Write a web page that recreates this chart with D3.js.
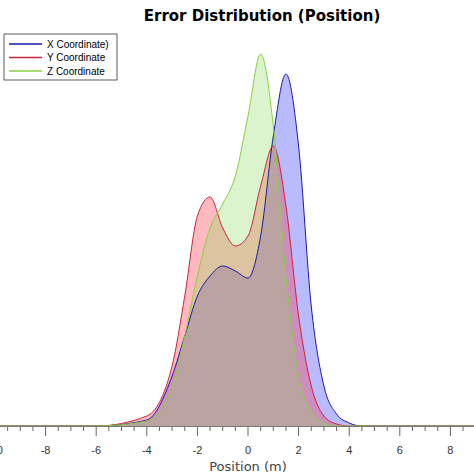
<!DOCTYPE html>
<html><head><meta charset="utf-8">
<script src="https://cdn.jsdelivr.net/npm/d3@7"></script>
<style>body{margin:0;background:#fff}</style>
</head><body><svg id="c" width="474" height="474"></svg>
<script>
// density samples
const xPos = [-10, -6, -4, -3, -2.5, -2, -1.5, -1, -0.5, 0, 0.5, 1, 1.5, 2, 2.5, 3, 3.5, 4, 4.5, 10];
const xCoord = [0, 0, 0.006, 0.05, 0.09, 0.13, 0.15, 0.16, 0.155, 0.148, 0.19, 0.29, 0.352, 0.28, 0.12, 0.04, 0.012, 0.003, 0, 0];
const yCoord = [0, 0, 0.01, 0.06, 0.13, 0.21, 0.229, 0.198, 0.18, 0.19, 0.24, 0.28, 0.22, 0.11, 0.04, 0.01, 0.002, 0, 0, 0];
const zCoord = [0, 0, 0.005, 0.04, 0.09, 0.15, 0.198, 0.222, 0.25, 0.31, 0.372, 0.3, 0.15, 0.05, 0.015, 0.003, 0, 0, 0, 0];
const series = [
  {name: "X Coordinate)", values: xCoord, stroke: "#1a1aa8", fill: "rgba(40,40,255,0.32)"},
  {name: "Y Coordinate", values: yCoord, stroke: "#c8243c", fill: "rgba(255,40,60,0.32)"},
  {name: "Z Coordinate", values: zCoord, stroke: "#88d040", fill: "rgba(140,220,90,0.3)"}
];
const ticks = [-10, -8, -6, -4, -2, 0, 2, 4, 6, 8, 10];

const svg = d3.select("#c");
const x = d3.scaleLinear().domain([-10, 10]).range([-5, 501]);
const y = d3.scaleLinear().domain([0, 0.4]).range([426, 26]);

const area = d3.area().x((d, i) => x(xPos[i])).y0(y(0)).y1(d => y(d)).curve(d3.curveMonotoneX);
const line = d3.line().x((d, i) => x(xPos[i])).y(d => y(d)).curve(d3.curveMonotoneX);

series.forEach(s => {
  svg.append("path").attr("d", area(s.values)).attr("fill", s.fill);
});
series.forEach(s => {
  svg.append("path").attr("d", line(s.values)).attr("fill", "none")
    .attr("stroke", s.stroke).attr("stroke-width", 1);
});

// axis
svg.append("line").attr("x1", 0).attr("x2", 474).attr("y1", 426.5).attr("y2", 426.5)
  .attr("stroke", "#777");
const minor = d3.range(-10, 10.01, 0.5);
svg.selectAll(".mt").data(minor).join("line")
  .attr("x1", d => x(d)).attr("x2", d => x(d))
  .attr("y1", 427).attr("y2", d => d % 2 === 0 ? 436 : 431)
  .attr("stroke", "#666").attr("stroke-width", 1);
svg.selectAll(".tl").data(ticks).join("text")
  .attr("x", d => x(d)).attr("y", 454).attr("text-anchor", "middle")
  .attr("font-family", "Liberation Sans, Arial").attr("font-size", 11).attr("fill", "#333")
  .text(d => d);
svg.append("text").attr("x", 248).attr("y", 471).attr("text-anchor", "middle")
  .attr("font-family", "DejaVu Sans").attr("font-size", 13).attr("fill", "#444")
  .text("Position (m)");

svg.append("text").attr("x", 262).attr("y", 21).attr("text-anchor", "middle")
  .attr("font-family", "DejaVu Sans").attr("font-weight", "bold").attr("font-size", 15)
  .text("Error Distribution (Position)");

// legend
const lg = svg.append("g").attr("transform", "translate(4,34)");
lg.append("rect").attr("width", 113).attr("height", 46).attr("fill", "#fff")
  .attr("stroke", "#333").attr("stroke-width", 0.8);
series.forEach((s, i) => {
  const yy = 10 + i * 13.5;
  lg.append("line").attr("x1", 5).attr("x2", 38).attr("y1", yy).attr("y2", yy)
    .attr("stroke", s.stroke).attr("stroke-width", 1.5);
  lg.append("text").attr("x", 43).attr("y", yy + 3.5)
    .attr("font-family", "Liberation Sans, Arial").attr("font-size", 10).text(s.name);
});
</script></body></html>
